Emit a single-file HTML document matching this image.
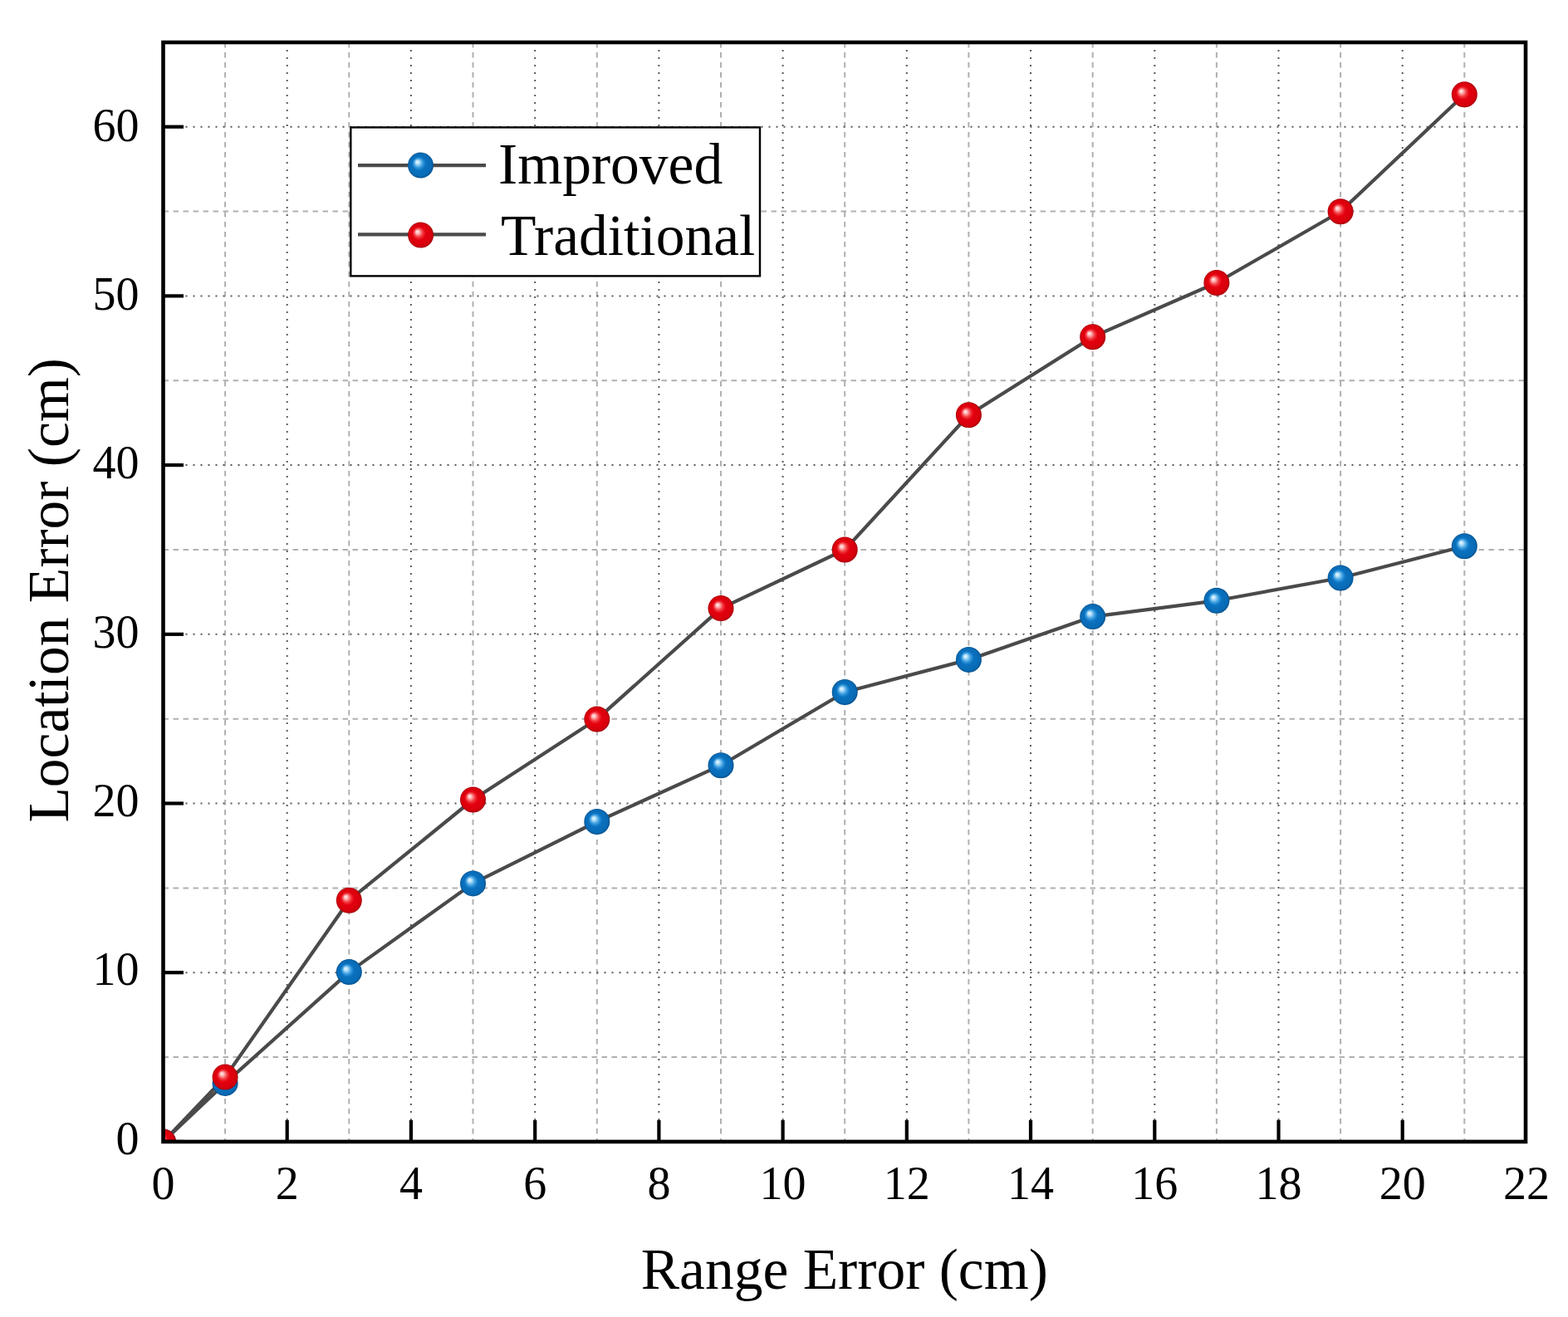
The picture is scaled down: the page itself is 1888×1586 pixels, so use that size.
<!DOCTYPE html>
<html><head><meta charset="utf-8"><title>Location Error vs Range Error</title>
<style>
html,body{margin:0;padding:0;background:#fff;}
body{width:1888px;height:1586px;overflow:hidden;}
svg{display:block;}
text{font-family:"Liberation Serif","Times New Roman",serif;fill:#000;}
</style></head><body>
<svg width="1888" height="1586" viewBox="0 0 1888 1586">
<defs>
<radialGradient id="gr" cx="0.5" cy="0.5" r="0.5" fx="0.36" fy="0.36">
<stop offset="0" stop-color="#fff4f4"/>
<stop offset="0.14" stop-color="#ffb8b8"/>
<stop offset="0.34" stop-color="#f23a40"/>
<stop offset="0.52" stop-color="#e4000e"/>
<stop offset="0.88" stop-color="#d6000c"/>
<stop offset="1" stop-color="#a0000a"/>
</radialGradient>
<radialGradient id="gb" cx="0.5" cy="0.5" r="0.5" fx="0.36" fy="0.36">
<stop offset="0" stop-color="#f2fbff"/>
<stop offset="0.14" stop-color="#b4e0fa"/>
<stop offset="0.34" stop-color="#3c9ee0"/>
<stop offset="0.52" stop-color="#0a72c0"/>
<stop offset="0.88" stop-color="#086ab4"/>
<stop offset="1" stop-color="#07508c"/>
</radialGradient>
<clipPath id="plot"><rect x="196.5" y="51.0" width="1640.5" height="1323.9"/></clipPath>
</defs>
<rect x="0" y="0" width="1888" height="1586" fill="#fff"/>
<style>.gM{stroke:#5a5a5a;stroke-width:2;stroke-dasharray:2 7;}.gm{stroke:#b0b0b0;stroke-width:2;stroke-dasharray:6.5 5.5;}</style>
<g><line x1="271.1" y1="51.0" x2="271.1" y2="1374.9" class="gm"/><line x1="345.7" y1="51.0" x2="345.7" y2="1374.9" class="gM"/><line x1="420.3" y1="51.0" x2="420.3" y2="1374.9" class="gm"/><line x1="494.9" y1="51.0" x2="494.9" y2="1374.9" class="gM"/><line x1="569.5" y1="51.0" x2="569.5" y2="1374.9" class="gm"/><line x1="644.2" y1="51.0" x2="644.2" y2="1374.9" class="gM"/><line x1="718.8" y1="51.0" x2="718.8" y2="1374.9" class="gm"/><line x1="793.4" y1="51.0" x2="793.4" y2="1374.9" class="gM"/><line x1="868.0" y1="51.0" x2="868.0" y2="1374.9" class="gm"/><line x1="942.6" y1="51.0" x2="942.6" y2="1374.9" class="gM"/><line x1="1017.2" y1="51.0" x2="1017.2" y2="1374.9" class="gm"/><line x1="1091.8" y1="51.0" x2="1091.8" y2="1374.9" class="gM"/><line x1="1166.4" y1="51.0" x2="1166.4" y2="1374.9" class="gm"/><line x1="1241.0" y1="51.0" x2="1241.0" y2="1374.9" class="gM"/><line x1="1315.7" y1="51.0" x2="1315.7" y2="1374.9" class="gm"/><line x1="1390.3" y1="51.0" x2="1390.3" y2="1374.9" class="gM"/><line x1="1464.9" y1="51.0" x2="1464.9" y2="1374.9" class="gm"/><line x1="1539.5" y1="51.0" x2="1539.5" y2="1374.9" class="gM"/><line x1="1614.1" y1="51.0" x2="1614.1" y2="1374.9" class="gm"/><line x1="1688.7" y1="51.0" x2="1688.7" y2="1374.9" class="gM"/><line x1="1763.3" y1="51.0" x2="1763.3" y2="1374.9" class="gm"/><line x1="196.5" y1="1273.1" x2="1837.0" y2="1273.1" class="gm"/><line x1="196.5" y1="1171.2" x2="1837.0" y2="1171.2" class="gM"/><line x1="196.5" y1="1069.4" x2="1837.0" y2="1069.4" class="gm"/><line x1="196.5" y1="967.5" x2="1837.0" y2="967.5" class="gM"/><line x1="196.5" y1="865.7" x2="1837.0" y2="865.7" class="gm"/><line x1="196.5" y1="763.8" x2="1837.0" y2="763.8" class="gM"/><line x1="196.5" y1="662.0" x2="1837.0" y2="662.0" class="gm"/><line x1="196.5" y1="560.1" x2="1837.0" y2="560.1" class="gM"/><line x1="196.5" y1="458.2" x2="1837.0" y2="458.2" class="gm"/><line x1="196.5" y1="356.4" x2="1837.0" y2="356.4" class="gM"/><line x1="196.5" y1="254.5" x2="1837.0" y2="254.5" class="gm"/><line x1="196.5" y1="152.7" x2="1837.0" y2="152.7" class="gM"/></g>
<g clip-path="url(#plot)">
<polyline points="196.5,1374.9 271.1,1304.4 420.3,1170.6 569.5,1063.9 718.8,989.5 868.0,921.7 1017.2,833.5 1166.4,794.4 1315.7,742.6 1464.9,723.3 1614.1,696.0 1763.3,657.7" fill="none" stroke="#4a4a4a" stroke-width="4.2" stroke-linejoin="round"/>
<polyline points="196.5,1374.9 271.1,1297.1 420.3,1084.2 569.5,963.0 718.8,866.1 868.0,732.6 1017.2,662.0 1166.4,499.8 1315.7,405.7 1464.9,340.5 1614.1,254.8 1763.3,113.8" fill="none" stroke="#4a4a4a" stroke-width="4.2" stroke-linejoin="round"/>
<circle cx="196.5" cy="1374.9" r="15.5" fill="url(#gb)"/><circle cx="271.1" cy="1304.4" r="15.5" fill="url(#gb)"/><circle cx="420.3" cy="1170.6" r="15.5" fill="url(#gb)"/><circle cx="569.5" cy="1063.9" r="15.5" fill="url(#gb)"/><circle cx="718.8" cy="989.5" r="15.5" fill="url(#gb)"/><circle cx="868.0" cy="921.7" r="15.5" fill="url(#gb)"/><circle cx="1017.2" cy="833.5" r="15.5" fill="url(#gb)"/><circle cx="1166.4" cy="794.4" r="15.5" fill="url(#gb)"/><circle cx="1315.7" cy="742.6" r="15.5" fill="url(#gb)"/><circle cx="1464.9" cy="723.3" r="15.5" fill="url(#gb)"/><circle cx="1614.1" cy="696.0" r="15.5" fill="url(#gb)"/><circle cx="1763.3" cy="657.7" r="15.5" fill="url(#gb)"/>
<circle cx="196.5" cy="1374.9" r="15.5" fill="url(#gr)"/><circle cx="271.1" cy="1297.1" r="15.5" fill="url(#gr)"/><circle cx="420.3" cy="1084.2" r="15.5" fill="url(#gr)"/><circle cx="569.5" cy="963.0" r="15.5" fill="url(#gr)"/><circle cx="718.8" cy="866.1" r="15.5" fill="url(#gr)"/><circle cx="868.0" cy="732.6" r="15.5" fill="url(#gr)"/><circle cx="1017.2" cy="662.0" r="15.5" fill="url(#gr)"/><circle cx="1166.4" cy="499.8" r="15.5" fill="url(#gr)"/><circle cx="1315.7" cy="405.7" r="15.5" fill="url(#gr)"/><circle cx="1464.9" cy="340.5" r="15.5" fill="url(#gr)"/><circle cx="1614.1" cy="254.8" r="15.5" fill="url(#gr)"/><circle cx="1763.3" cy="113.8" r="15.5" fill="url(#gr)"/>
</g>
<rect x="196.5" y="51.0" width="1640.5" height="1323.9" fill="none" stroke="#000" stroke-width="4.6"/>
<g stroke="#000" stroke-width="4.2"><line x1="345.7" y1="1374.9" x2="345.7" y2="1348.9"/><line x1="494.9" y1="1374.9" x2="494.9" y2="1348.9"/><line x1="644.2" y1="1374.9" x2="644.2" y2="1348.9"/><line x1="793.4" y1="1374.9" x2="793.4" y2="1348.9"/><line x1="942.6" y1="1374.9" x2="942.6" y2="1348.9"/><line x1="1091.8" y1="1374.9" x2="1091.8" y2="1348.9"/><line x1="1241.0" y1="1374.9" x2="1241.0" y2="1348.9"/><line x1="1390.3" y1="1374.9" x2="1390.3" y2="1348.9"/><line x1="1539.5" y1="1374.9" x2="1539.5" y2="1348.9"/><line x1="1688.7" y1="1374.9" x2="1688.7" y2="1348.9"/><line x1="196.5" y1="1374.9" x2="221.0" y2="1374.9"/><line x1="196.5" y1="1171.2" x2="221.0" y2="1171.2"/><line x1="196.5" y1="967.5" x2="221.0" y2="967.5"/><line x1="196.5" y1="763.8" x2="221.0" y2="763.8"/><line x1="196.5" y1="560.1" x2="221.0" y2="560.1"/><line x1="196.5" y1="356.4" x2="221.0" y2="356.4"/><line x1="196.5" y1="152.7" x2="221.0" y2="152.7"/></g>
<g font-size="56"><text x="196.5" y="1444" text-anchor="middle">0</text><text x="345.7" y="1444" text-anchor="middle">2</text><text x="494.9" y="1444" text-anchor="middle">4</text><text x="644.2" y="1444" text-anchor="middle">6</text><text x="793.4" y="1444" text-anchor="middle">8</text><text x="942.6" y="1444" text-anchor="middle">10</text><text x="1091.8" y="1444" text-anchor="middle">12</text><text x="1241.0" y="1444" text-anchor="middle">14</text><text x="1390.3" y="1444" text-anchor="middle">16</text><text x="1539.5" y="1444" text-anchor="middle">18</text><text x="1688.7" y="1444" text-anchor="middle">20</text><text x="1837.9" y="1444" text-anchor="middle">22</text><text x="167.5" y="1389.5" text-anchor="end">0</text><text x="167.5" y="1186.2" text-anchor="end">10</text><text x="167.5" y="982.9" text-anchor="end">20</text><text x="167.5" y="779.6" text-anchor="end">30</text><text x="167.5" y="576.3" text-anchor="end">40</text><text x="167.5" y="373.0" text-anchor="end">50</text><text x="167.5" y="169.7" text-anchor="end">60</text></g>
<text x="1016.8" y="1552" font-size="69.5" text-anchor="middle">Range Error (cm)</text>
<text transform="translate(81.6,710.8) rotate(-90)" font-size="69.5" text-anchor="middle">Location Error (cm)</text>
<rect x="422.3" y="153.4" width="492.7" height="179" fill="#fff" stroke="#000" stroke-width="2.4"/>
<line x1="431" y1="199.2" x2="585" y2="199.2" stroke="#4a4a4a" stroke-width="4.2"/>
<line x1="431" y1="282.3" x2="585" y2="282.3" stroke="#4a4a4a" stroke-width="4.2"/>
<circle cx="506.5" cy="199.1" r="15.5" fill="url(#gb)"/>
<circle cx="506.6" cy="283.1" r="15.5" fill="url(#gr)"/>
<text x="600" y="221.2" font-size="69.5">Improved</text>
<text x="603" y="306.6" font-size="69.5">Traditional</text>
</svg>
</body></html>
